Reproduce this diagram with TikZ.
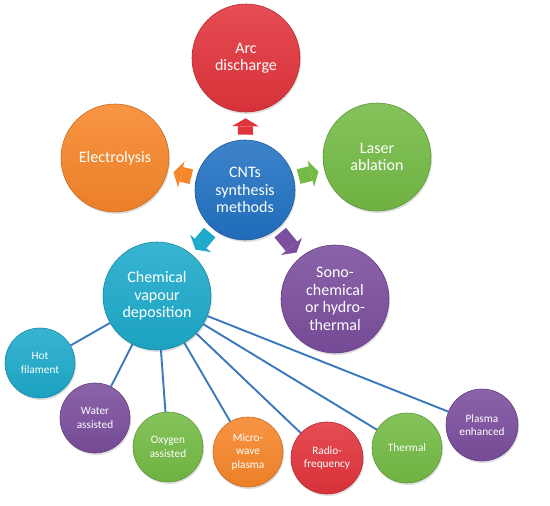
\documentclass[tikz,border=0pt]{standalone}
\usepackage{fontspec}
\setmainfont{Carlito}
\usetikzlibrary{arrows.meta, shadows}

\definecolor{cntblue}{HTML}{2272C3}
\definecolor{arcred}{HTML}{E2343C}
\definecolor{elecorange}{HTML}{F7862A}
\definecolor{lasergreen}{HTML}{74BB45}
\definecolor{sonopurple}{HTML}{7B4E9E}
\definecolor{cvdcyan}{HTML}{1DAACB}
\definecolor{linkblue}{HTML}{3A78BE}

\begin{document}
\begin{tikzpicture}[x=1pt, y=-1pt,
  bubble/.style={circle, draw=#1!80!black, line width=0.6pt,
    top color=#1!88!white, bottom color=#1!95!black, text=white, align=center,
    inner sep=0pt, drop shadow={opacity=0.25, shadow xshift=1pt, shadow yshift=-2pt}},
  big/.style={bubble=#1, minimum size=108pt, font=\fontsize{16}{17.5}\selectfont},
  small/.style={bubble=#1, minimum size=70pt, font=\fontsize{11.3}{13.3}\selectfont},
  fatarrow/.style={draw=#1, line width=15pt,
    -{Triangle[width=27pt 0, length=8pt 0 0, line width=0pt 0 0]},
    shorten <=5pt, shorten >=6pt},
  link/.style={draw=linkblue, line width=1.9pt}]
  \useasboundingbox (0,0) rectangle (550,506);

  % Main methods
  \node[big=cntblue, minimum size=100pt] (cnt) at (245,190) {CNTs\\synthesis\\methods};
  \node[big=arcred] (arc) at (246,58) {Arc\\discharge};
  \node[big=elecorange] (elec) at (115,158) {Electrolysis};
  \node[big=lasergreen] (laser) at (377,157) {Laser\\ablation};
  \node[big=sonopurple] (sono) at (335,299) {Sono-\\chemical\\or hydro-\\thermal};
  \node[big=cvdcyan] (cvd) at (157,296) {Chemical\\vapour\\deposition};

  % Block arrows
  \draw[fatarrow=arcred] (cnt) -- (arc);
  \draw[fatarrow=elecorange] (cnt) -- (elec);
  \draw[fatarrow=lasergreen] (cnt) -- (laser);
  \draw[fatarrow=sonopurple] (cnt) -- (sono);
  \draw[fatarrow=cvdcyan] (cnt) -- (cvd);

  % CVD variants
  \node[small=cvdcyan] (hot) at (40,363) {Hot\\filament};
  \node[small=sonopurple] (water) at (95,418) {Water\\assisted};
  \node[small=lasergreen] (oxy) at (168,447) {Oxygen\\assisted};
  \node[small=elecorange] (micro) at (248,452) {Micro-\\wave\\plasma};
  \node[small=arcred, minimum size=72pt] (radio) at (327,458) {Radio-\\frequency};
  \node[small=lasergreen] (therm) at (407,448) {Thermal};
  \node[small=sonopurple, minimum size=72pt] (penh) at (482,425) {Plasma\\enhanced};

  \foreach \v in {hot, water, oxy, micro, radio, therm, penh}
    \draw[link] (cvd) -- (\v);
\end{tikzpicture}
\end{document}
